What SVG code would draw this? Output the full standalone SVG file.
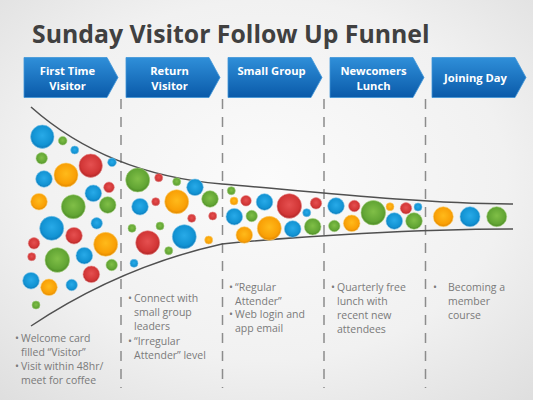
<svg xmlns="http://www.w3.org/2000/svg" width="533" height="400" viewBox="0 0 533 400">
<defs>
<radialGradient id="bg" cx="50%" cy="45%" r="75%">
<stop offset="0" stop-color="#fbfbfb"/><stop offset="0.6" stop-color="#f1f1f1"/><stop offset="1" stop-color="#dedede"/>
</radialGradient>
<linearGradient id="chev" x1="0" y1="0" x2="0" y2="1">
<stop offset="0" stop-color="#2f8fd9"/><stop offset="1" stop-color="#0a5aa9"/>
</linearGradient>
<radialGradient id="gB" cx="50%" cy="45%" r="55%"><stop offset="0" stop-color="#28aae8"/><stop offset="0.75" stop-color="#1293d3"/><stop offset="1" stop-color="#0b78b8"/></radialGradient>
<radialGradient id="gG" cx="50%" cy="45%" r="55%"><stop offset="0" stop-color="#80bf47"/><stop offset="0.75" stop-color="#62a534"/><stop offset="1" stop-color="#4c8a25"/></radialGradient>
<radialGradient id="gR" cx="50%" cy="45%" r="55%"><stop offset="0" stop-color="#e55050"/><stop offset="0.75" stop-color="#d23636"/><stop offset="1" stop-color="#ad2525"/></radialGradient>
<radialGradient id="gO" cx="50%" cy="45%" r="55%"><stop offset="0" stop-color="#ffba1a"/><stop offset="0.75" stop-color="#f9a006"/><stop offset="1" stop-color="#e08600"/></radialGradient>
</defs>
<style>
.title{font-family:"Open Sans","Liberation Sans",sans-serif;font-weight:700;font-size:24.8px;fill:#404040}
.chev{fill:url(#chev);stroke:#3f95d8;stroke-width:0.8}
.cl{font-family:"Open Sans","Liberation Sans",sans-serif;font-weight:700;font-size:11.2px;fill:#ffffff;text-anchor:middle}
.note{font-family:"Open Sans","Liberation Sans",sans-serif;font-size:10.5px;fill:#7a7a7a}
.div{stroke:#8c8c8c;stroke-width:1.5;stroke-dasharray:10 8;fill:none}
.fun{stroke:#505050;stroke-width:1.5;fill:none}
.b{fill:url(#gB);stroke:#7cc6ec;stroke-opacity:0.6;stroke-width:1}
.g{fill:url(#gG);stroke:#a6d37e;stroke-opacity:0.6;stroke-width:1}
.r{fill:url(#gR);stroke:#ec8a8a;stroke-opacity:0.6;stroke-width:1}
.o{fill:url(#gO);stroke:#ffd36e;stroke-opacity:0.6;stroke-width:1}
</style>
<rect width="533" height="400" fill="url(#bg)"/>
<text id="title" class="title" x="32" y="43">Sunday Visitor Follow Up Funnel</text>

<g id="stage1"><path class="chev" d="M24,57.5 H107 L118,77.5 L107,97.5 H24 Z"/><text class="cl" x="67.5" y="75">First Time</text><text class="cl" x="67.5" y="90">Visitor</text></g>
<g id="stage2"><path class="chev" d="M126,57.5 H209 L220,77.5 L209,97.5 H126 Z"/><text class="cl" x="169.5" y="75">Return</text><text class="cl" x="169.5" y="90">Visitor</text></g>
<g id="stage3"><path class="chev" d="M228,57.5 H311 L322,77.5 L311,97.5 H228 Z"/><text class="cl" x="271.5" y="75">Small Group</text></g>
<g id="stage4"><path class="chev" d="M330,57.5 H413 L424,77.5 L413,97.5 H330 Z"/><text class="cl" x="373.5" y="75">Newcomers</text><text class="cl" x="373.5" y="90">Lunch</text></g>
<g id="stage5"><path class="chev" d="M432,57.5 H515 L526,77.5 L515,97.5 H432 Z"/><text class="cl" x="475.5" y="82">Joining Day</text></g>

<g id="connectors">
<line class="div" x1="121" y1="99" x2="121" y2="388"/>
<line class="div" x1="222.5" y1="99" x2="222.5" y2="388"/>
<line class="div" x1="324" y1="99" x2="324" y2="388"/>
<line class="div" x1="425.5" y1="99" x2="425.5" y2="388"/>
<path class="fun" d="M31,107 C85,155 150,178 222,184 C300,190.5 420,204 513,204"/>
<path class="fun" d="M31,326 C85,290 150,260 222,244 C300,236 420,229 513,229"/>
</g>

<g id="bubbles">
<circle class="b" cx="42.3" cy="136.7" r="11.7"/>
<circle class="g" cx="62.7" cy="140.7" r="4.3"/>
<circle class="b" cx="74.7" cy="150" r="4"/>
<circle class="g" cx="41.7" cy="158.3" r="5.7"/>
<circle class="r" cx="90.7" cy="165.7" r="11.7"/>
<circle class="b" cx="112" cy="162.3" r="4.3"/>
<circle class="o" cx="66" cy="175" r="12"/>
<circle class="b" cx="44" cy="179" r="8.3"/>
<circle class="b" cx="93.3" cy="193.3" r="8.3"/>
<circle class="r" cx="109" cy="187.3" r="5.3"/>
<circle class="o" cx="39" cy="201.7" r="8.3"/>
<circle class="g" cx="73.3" cy="206.7" r="12"/>
<circle class="g" cx="107.7" cy="205" r="8.3"/>
<circle class="b" cx="96.7" cy="223.3" r="5.7"/>
<circle class="b" cx="51.7" cy="228.3" r="12"/>
<circle class="r" cx="74" cy="235.7" r="8.3"/>
<circle class="o" cx="105.7" cy="244.3" r="12"/>
<circle class="r" cx="34" cy="243.3" r="5.7"/>
<circle class="r" cx="31.7" cy="256.7" r="4"/>
<circle class="g" cx="57.3" cy="260" r="12.3"/>
<circle class="b" cx="84.3" cy="255.7" r="8.3"/>
<circle class="g" cx="111.7" cy="265" r="5.7"/>
<circle class="r" cx="91.3" cy="274.3" r="8.3"/>
<circle class="b" cx="31" cy="280.7" r="8.3"/>
<circle class="o" cx="49" cy="287.3" r="8.3"/>
<circle class="b" cx="71.7" cy="285" r="5.7"/>
<circle class="g" cx="36" cy="305" r="4"/>

<circle class="g" cx="137.7" cy="180" r="12"/>
<circle class="r" cx="158.7" cy="177.7" r="4"/>
<circle class="g" cx="176.7" cy="181.7" r="4"/>
<circle class="b" cx="195" cy="187.3" r="8.3"/>
<circle class="g" cx="210" cy="199" r="8.3"/>
<circle class="b" cx="140" cy="206.7" r="8.3"/>
<circle class="r" cx="155.7" cy="201.7" r="4"/>
<circle class="o" cx="176.7" cy="201.7" r="12"/>
<circle class="r" cx="191.7" cy="218.3" r="4"/>
<circle class="r" cx="212.7" cy="216" r="4"/>
<circle class="g" cx="132" cy="228.3" r="4"/>
<circle class="g" cx="160" cy="226" r="4"/>
<circle class="r" cx="147.7" cy="242.7" r="12"/>
<circle class="b" cx="184.3" cy="236.7" r="12"/>
<circle class="o" cx="208.7" cy="240" r="4"/>
<circle class="g" cx="168.7" cy="250.7" r="4"/>
<circle class="b" cx="134" cy="263.3" r="4"/>

<circle class="g" cx="231.3" cy="190.7" r="4"/>
<circle class="o" cx="234" cy="201" r="4"/>
<circle class="r" cx="246" cy="200.7" r="5.3"/>
<circle class="b" cx="264.5" cy="202" r="8.3"/>
<circle class="b" cx="234.3" cy="216.7" r="8.3"/>
<circle class="g" cx="251.7" cy="216" r="5.7"/>
<circle class="o" cx="244.3" cy="235" r="8.3"/>
<circle class="r" cx="289.3" cy="206" r="12.3"/>
<circle class="b" cx="306.7" cy="212.7" r="4"/>
<circle class="r" cx="316" cy="203.3" r="5.7"/>
<circle class="o" cx="269.3" cy="228.3" r="12"/>
<circle class="b" cx="292.7" cy="229" r="8.3"/>
<circle class="g" cx="312.7" cy="226.7" r="8.3"/>

<circle class="b" cx="336" cy="206" r="8.3"/>
<circle class="r" cx="354.3" cy="206" r="5.7"/>
<circle class="g" cx="373.3" cy="212.7" r="12.3"/>
<circle class="o" cx="390" cy="206.7" r="4"/>
<circle class="r" cx="406" cy="208.3" r="5.7"/>
<circle class="b" cx="418" cy="207" r="4"/>
<circle class="g" cx="334.3" cy="226" r="5.7"/>
<circle class="o" cx="351.7" cy="223.3" r="8.3"/>
<circle class="b" cx="394.3" cy="221" r="8.3"/>
<circle class="g" cx="414" cy="221" r="8.3"/>

<circle class="o" cx="443.3" cy="216.7" r="10"/>
<circle class="b" cx="470" cy="216.7" r="10"/>
<circle class="g" cx="496.7" cy="216.7" r="10"/>
</g>

<g id="notes1" class="note">
<text x="15" y="342">•</text><text x="21" y="342">Welcome card</text>
<text x="21" y="356">filled “Visitor”</text>
<text x="15" y="370">•</text><text x="21" y="370">Visit within 48hr/</text>
<text x="21" y="384">meet for coffee</text>
</g>
<g id="notes2" class="note">
<text x="128" y="302">•</text><text x="134" y="302">Connect with</text>
<text x="134" y="316">small group</text>
<text x="134" y="330">leaders</text>
<text x="128" y="345">•</text><text x="134" y="345">“Irregular</text>
<text x="134" y="359">Attender” level</text>
</g>
<g id="notes3" class="note">
<text x="229" y="291">•</text><text x="235" y="291">“Regular</text>
<text x="235" y="305">Attender”</text>
<text x="229" y="318">•</text><text x="235" y="318">Web login and</text>
<text x="235" y="332">app email</text>
</g>
<g id="notes4" class="note">
<text x="331" y="291">•</text><text x="337" y="291">Quarterly free</text>
<text x="337" y="305">lunch with</text>
<text x="337" y="319">recent new</text>
<text x="337" y="333">attendees</text>
</g>
<g id="notes5" class="note">
<text x="433" y="291">•</text><text x="448" y="291">Becoming a</text>
<text x="448" y="305">member</text>
<text x="448" y="319">course</text>
</g>
</svg>
